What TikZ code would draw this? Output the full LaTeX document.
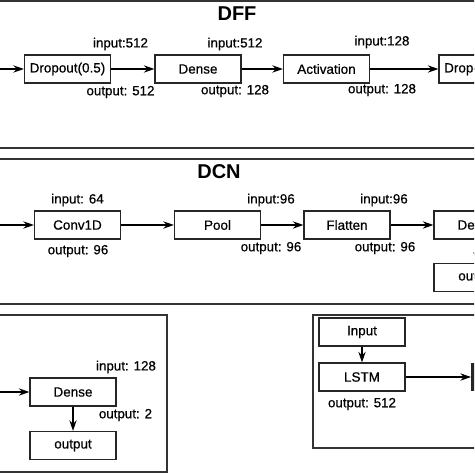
\documentclass[tikz,border=0pt]{standalone}
\usepackage{fontspec}
\setmainfont{Liberation Sans}
\newfontfamily\diagfont{Liberation Sans}[FakeBold=0.6]
\usetikzlibrary{arrows.meta}

\tikzset{
  layerbox/.style={draw=black!85, line width=0.9pt, minimum width=64.5pt, minimum height=21pt, inner sep=0pt, font=\diagfont\fontsize{10.1}{11}\selectfont},
  lbl/.style={font=\diagfont\fontsize{10}{11}\selectfont, inner sep=0pt},
  ttl/.style={font=\fontsize{15}{17}\selectfont\bfseries, inner sep=0pt},
  arr/.style={line width=0.8pt, -{Stealth[length=8pt,width=5.5pt]}},
  sep/.style={draw=black!80, line width=1.5pt}
}

\begin{document}
\begin{tikzpicture}[x=0.75pt,y=0.75pt,yscale=-1,xscale=1]
\useasboundingbox (0,0) rectangle (474,474);
\clip (0,0) rectangle (474,474);

%Straight Lines
\draw [sep] (-5,1) -- (480,1) ;
\draw [sep] (-5,148) -- (480,148) ;
\draw [sep] (-5,159) -- (480,159) ;
\draw [sep] (-5,303.5) -- (480,303.5) ;

% Text Node
\node [ttl] (dff) at (237,14) {DFF};
\node [ttl] (dcn) at (219,172) {DCN};

%Shape: Rectangle (DFF)
\coordinate (dffin) at (0,69);
\node [layerbox] (drop1) at (67.5,69) {Dropout(0.5)};
\node [layerbox] (dense1) at (198,69) {Dense};
\node [layerbox] (act) at (326.5,69) {Activation};
\node [layerbox] (drop2) at (482,69) {Dropout(0.5)};

%Straight Lines
\draw [arr] (dffin) -- (drop1) ;
\draw [arr] (drop1) -- (dense1) ;
\draw [arr] (dense1) -- (act) ;
\draw [arr] (act) -- (drop2) ;

% Text Node
\node [lbl] (in1) at (120.5,44) {input:512};
\node [lbl] (out1) at (120.5,92) {output: 512};
\node [lbl] (in2) at (235,44) {input:512};
\node [lbl] (out2) at (235,91) {output: 128};
\node [lbl] (in3) at (382,42) {input:128};
\node [lbl] (out3) at (382,90) {output: 128};

%Shape: Rectangle (DCN)
\coordinate (dcnin) at (0,225);
\node [layerbox] (conv) at (77.5,225) {Conv1D};
\node [layerbox] (pool) at (217.5,225) {Pool};
\node [layerbox] (flat) at (347,225) {Flatten};
\node [layerbox] (dense2) at (477,225) {Dense};
\node [layerbox] (out4) at (477,277.5) {output};

%Straight Lines
\draw [arr] (dcnin) -- (conv) ;
\draw [arr] (conv) -- (pool) ;
\draw [arr] (pool) -- (flat) ;
\draw [arr] (flat) -- (dense2) ;
\draw [arr] (dense2) -- (out4) ;

% Text Node
\node [lbl] (in4) at (77.5,200) {input: 64};
\node [lbl] (out5) at (78,251) {output: 96};
\node [lbl] (in5) at (271,200) {input:96};
\node [lbl] (out6) at (271,248) {output: 96};
\node [lbl] (in6) at (384,200) {input:96};
\node [lbl] (out7) at (385,248) {output: 96};

%Shape: Rectangle (bottom frames)
\draw [draw=black!80, line width=1.2pt] (-5,315) rectangle (167,472) ;
\draw [draw=black!80, line width=1.2pt] (313,315) rectangle (480,448) ;

%Shape: Rectangle (bottom left)
\coordinate (blin) at (0,392);
\node [layerbox] (dense3) at (73,392) {Dense};
\node [layerbox] (out8) at (73,445.5) {output};
\draw [arr] (blin) -- (dense3) ;
\draw [arr] (dense3) -- (out8) ;
\node [lbl] (in7) at (126,367) {input: 128};
\node [lbl] (out9) at (125.5,415) {output: 2};

%Shape: Rectangle (bottom right)
\node [layerbox] (inp) at (362,332) {Input};
\node [layerbox] (lstm) at (362,377) {LSTM};
\node [fill=black!85, minimum width=3pt, minimum height=21pt, inner sep=0pt, anchor=west] (next) at (471,377) {};
\draw [arr] (inp) -- (lstm) ;
\draw [arr] (lstm) -- (next) ;
\node [lbl] (out10) at (362,404) {output: 512};

\end{tikzpicture}
\end{document}
